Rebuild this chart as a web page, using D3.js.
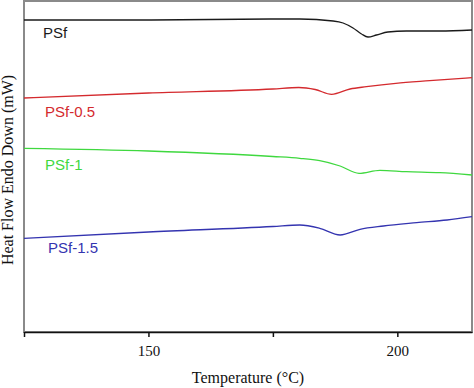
<!DOCTYPE html>
<html>
<head>
<meta charset="utf-8">
<script src="https://cdn.jsdelivr.net/npm/d3@7"></script>
<style>
  html, body { margin: 0; padding: 0; background: #fff; }
  svg { display: block; }
</style>
</head>
<body>
<div id="chart"></div>
<script>
// Données (unités arbitraires pour le flux de chaleur)
const psfT     = [125, 150, 175, 180.4, 187.1, 189.1, 191.1, 192.8, 194.1, 195.8, 198.1, 201.8, 208.5, 215];
const psfY     = [31.2, 31.2, 31.3, 31.3, 31.1, 30.9, 30.4, 29.8, 29.5, 29.7, 30.0, 30.1, 30.1, 30.2];

const psf05T   = [125, 150, 175, 180.2, 183.5, 186.8, 190.5, 193.8, 199.7, 206.5, 215];
const psf05Y   = [23.4, 23.9, 24.3, 24.45, 24.25, 23.77, 24.3, 24.53, 24.87, 25.13, 25.43];

const psf1T    = [125, 150, 175, 180.4, 184.4, 188.5, 192.3, 196.5, 201.8, 208.5, 215];
const psf1Y    = [18.37, 18.1, 17.55, 17.37, 17.13, 16.6, 15.87, 16.17, 16.03, 15.93, 15.7];

const psf15T   = [125, 150, 175, 180.4, 184.4, 188.5, 192.5, 197.2, 203.9, 210, 215];
const psf15Y   = [9.37, 10.0, 10.55, 10.7, 10.37, 9.7, 10.27, 10.6, 10.93, 11.2, 11.53];

const seriesNames  = ['PSf', 'PSf-0.5', 'PSf-1', 'PSf-1.5'];
const seriesColors = ['#1a1a1a', '#d42a2e', '#3fd83f', '#3434b0'];

const xTicks      = [125, 150, 175, 200];
const xTickLabels = ['', '150', '', '200'];

const WIDTH = 474;
const HEIGHT = 388;
const MARGIN = { top: 1, right: 2, bottom: 56, left: 24 };

const svg = d3.select('#chart').append('svg')
    .attr('width', WIDTH)
    .attr('height', HEIGHT);

const innerW = WIDTH - MARGIN.left - MARGIN.right;
const innerH = HEIGHT - MARGIN.top - MARGIN.bottom;

const x = d3.scaleLinear().domain([125, 215]).range([MARGIN.left, MARGIN.left + innerW]);
const y = d3.scaleLinear().domain([0, 33.1]).range([MARGIN.top + innerH, MARGIN.top]);

// Cadre (gris en haut, à gauche et à droite)
svg.append('rect')
    .attr('x', MARGIN.left)
    .attr('y', MARGIN.top)
    .attr('width', innerW)
    .attr('height', innerH)
    .attr('fill', 'none')
    .attr('stroke', '#8a8a8a')
    .attr('stroke-width', 2);

// Axe X
const xAxis = d3.axisBottom(x)
    .tickValues(xTicks)
    .tickSize(5)
    .tickSizeOuter(0)
    .tickFormat((d, i) => xTickLabels[i]);

const gx = svg.append('g')
    .attr('transform', `translate(0,${MARGIN.top + innerH})`)
    .call(xAxis);
gx.select('.domain').attr('stroke', '#111').attr('stroke-width', 1.5);
gx.selectAll('.tick line').attr('stroke', '#111').attr('stroke-width', 1.5);
gx.selectAll('.tick text')
    .attr('font-family', '"Liberation Serif", "Times New Roman", serif')
    .attr('font-size', '15px')
    .attr('fill', '#111')
    .attr('dy', '1.05em');

// Titres des axes
svg.append('text')
    .attr('x', 248)
    .attr('y', 383)
    .attr('text-anchor', 'middle')
    .attr('font-family', '"Liberation Serif", "Times New Roman", serif')
    .attr('font-size', '16px')
    .attr('fill', '#111')
    .text('Temperature (°C)');

svg.append('text')
    .attr('transform', 'rotate(-90)')
    .attr('x', -170)
    .attr('y', 13)
    .attr('text-anchor', 'middle')
    .attr('font-family', '"Liberation Serif", "Times New Roman", serif')
    .attr('font-size', '16px')
    .attr('fill', '#111')
    .text('Heat Flow Endo Down (mW)');

// Courbes
const series = [
    { T: psfT, Y: psfY },
    { T: psf05T, Y: psf05Y },
    { T: psf1T, Y: psf1Y },
    { T: psf15T, Y: psf15Y }
];

const line = d3.line()
    .x(d => x(d[0]))
    .y(d => y(d[1]))
    .curve(d3.curveMonotoneX);

series.forEach((s, i) => {
    const pts = s.T.map((t, j) => [t, s.Y[j]]);
    svg.append('path')
        .datum(pts)
        .attr('d', line)
        .attr('fill', 'none')
        .attr('stroke', seriesColors[i])
        .attr('stroke-width', 1.3);
});

// Étiquettes des courbes
const labelPos = [[43, 38], [45, 117], [45, 170], [48, 253]];
seriesNames.forEach((name, i) => {
    svg.append('text')
        .attr('x', labelPos[i][0])
        .attr('y', labelPos[i][1])
        .attr('font-family', '"Liberation Sans", Arial, sans-serif')
        .attr('font-size', '15px')
        .attr('fill', seriesColors[i])
        .text(name);
});
</script>
</body>
</html>
